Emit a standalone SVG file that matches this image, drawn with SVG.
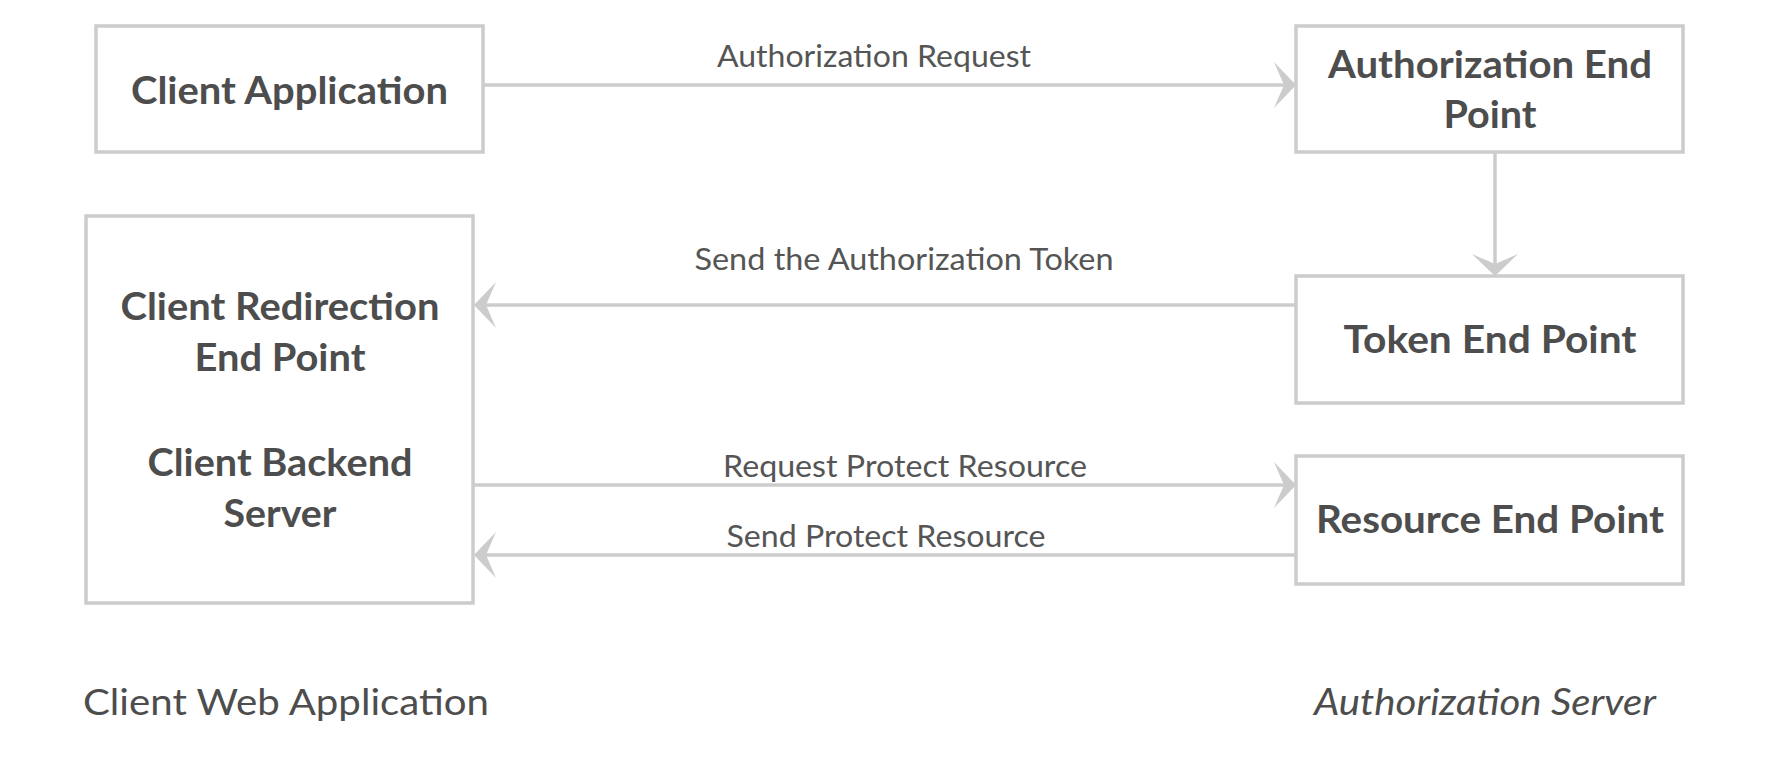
<svg xmlns="http://www.w3.org/2000/svg" width="1770" height="771" viewBox="0 0 1770 771">
<style>
.box{fill:#ffffff;stroke:#cccccc;stroke-width:3.5}
.nt{font-family:Lato,"Open Sans","Liberation Sans",sans-serif;font-weight:bold;font-size:38px;fill:#4d4d4d;text-anchor:middle}
.lb{font-family:Lato,"Open Sans","Liberation Sans",sans-serif;font-size:30px;fill:#555555;text-anchor:middle}
.ft{font-family:Lato,"Open Sans","Liberation Sans",sans-serif;font-size:37px;fill:#4d4d4d}
.cn{fill:none;stroke:#cccccc;stroke-width:3.5}
</style>
<defs>
<marker id="ah" markerUnits="userSpaceOnUse" orient="auto" refX="0" refY="0" markerWidth="30" markerHeight="50" overflow="visible">
<path d="M10,0 L-12,-23 L-2,0 L-12,23 Z" fill="#cccccc"/>
</marker>
</defs>
<rect width="1770" height="771" fill="#ffffff"/>
<g id="connectors">
<line class="cn" x1="483" y1="85" x2="1286" y2="85" marker-end="url(#ah)"/>
<line class="cn" x1="1495" y1="152" x2="1495" y2="266" marker-end="url(#ah)"/>
<line class="cn" x1="1296" y1="305" x2="484" y2="305" marker-end="url(#ah)"/>
<line class="cn" x1="474" y1="485" x2="1286" y2="485" marker-end="url(#ah)"/>
<line class="cn" x1="1296" y1="555" x2="484" y2="555" marker-end="url(#ah)"/>
<text class="lb" x="874" y="67" textLength="314" lengthAdjust="spacingAndGlyphs">Authorization Request</text>
<text class="lb" x="904" y="270" textLength="419" lengthAdjust="spacingAndGlyphs">Send the Authorization Token</text>
<text class="lb" x="905" y="477" textLength="364" lengthAdjust="spacingAndGlyphs">Request Protect Resource</text>
<text class="lb" x="886" y="547" textLength="319" lengthAdjust="spacingAndGlyphs">Send Protect Resource</text>
</g>
<g id="client-application">
<rect class="box" x="96" y="26" width="387" height="126"/>
<text class="nt" x="289.5" y="104" textLength="317" lengthAdjust="spacingAndGlyphs">Client Application</text>
</g>
<g id="authorization-end-point">
<rect class="box" x="1296" y="26" width="387" height="126"/>
<text class="nt" x="1490" y="78" textLength="324" lengthAdjust="spacingAndGlyphs">Authorization End</text>
<text class="nt" x="1490" y="128" textLength="93" lengthAdjust="spacingAndGlyphs">Point</text>
</g>
<g id="client-backend">
<rect class="box" x="86" y="216" width="387" height="387"/>
<text class="nt" x="280" y="320" textLength="319" lengthAdjust="spacingAndGlyphs">Client Redirection</text>
<text class="nt" x="280" y="371" textLength="171" lengthAdjust="spacingAndGlyphs">End Point</text>
<text class="nt" x="280" y="476" textLength="265" lengthAdjust="spacingAndGlyphs">Client Backend</text>
<text class="nt" x="280" y="527" textLength="113" lengthAdjust="spacingAndGlyphs">Server</text>
</g>
<g id="token-end-point">
<rect class="box" x="1296" y="276" width="387" height="127"/>
<text class="nt" x="1490" y="353" textLength="293" lengthAdjust="spacingAndGlyphs">Token End Point</text>
</g>
<g id="resource-end-point">
<rect class="box" x="1296" y="456" width="387" height="128"/>
<text class="nt" x="1490" y="533" textLength="348" lengthAdjust="spacingAndGlyphs">Resource End Point</text>
</g>
<g id="group-labels">
<text class="ft" x="83" y="715" textLength="406" lengthAdjust="spacingAndGlyphs">Client Web Application</text>
<text class="ft" x="1485" y="715" text-anchor="middle" font-style="italic" textLength="342" lengthAdjust="spacingAndGlyphs">Authorization Server</text>
</g>
</svg>
